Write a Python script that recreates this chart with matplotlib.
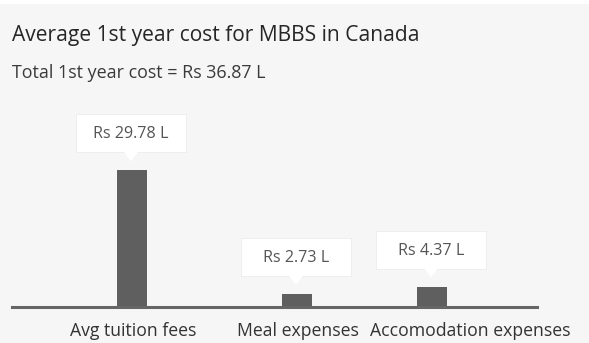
import matplotlib.pyplot as plt
import matplotlib.patches as patches

categories = ["Avg tuition fees", "Meal expenses", "Accomodation expenses"]
costs = [29.78, 2.73, 4.37]
value_labels = ["Rs 29.78 L", "Rs 2.73 L", "Rs 4.37 L"]
title = "Average 1st year cost for MBBS in Canada"
subtitle = "Total 1st year cost = Rs 36.87 L"

# layout (bar centers and label centers, in category units)
bar_pos = [0, 1, 1.818]
label_pos = [0.006, 1.006, 2.048]

W, H = 589, 343
bg = "#f6f6f6"
plt.rcParams['font.family'] = ['Open Sans', 'DejaVu Sans']

fig = plt.figure(figsize=(W / 100, H / 100), dpi=100)
fig.patch.set_facecolor(bg)
# white strip along the top edge
fig.patches.append(patches.Rectangle((0, 1 - 4 / H), 1, 4 / H, transform=fig.transFigure,
                                     facecolor="white", edgecolor="none"))

ax = fig.add_axes([12 / W, 1 - 306.5 / H, 525 / W, 206.5 / H])
ax.set_facecolor(bg)
ax.bar(bar_pos, costs, width=0.179, color="#5f5f5f", zorder=2)
ax.set_xlim(-0.727, 2.4545)
ax.set_ylim(0, 45.2)
for s in ["top", "right", "left"]:
    ax.spines[s].set_visible(False)
ax.spines["bottom"].set_color("#666666")
ax.spines["bottom"].set_linewidth(2.2)
ax.set_yticks([])
ax.set_xticks(label_pos)
ax.set_xticklabels(categories, fontsize=12.7, color="#333333")
ax.tick_params(axis="x", length=0, pad=11)

fig.text(12 / W, 1 - 41.5 / H, title, fontsize=15.1, color="#262626", va="baseline")
fig.text(12 / W, 1 - 78.5 / H, subtitle, fontsize=12.9, color="#3a3a3a", va="baseline")

# callout boxes above each bar, sized in pixels
for x, v, lab in zip(bar_pos, costs, value_labels):
    cx, top = ax.transData.transform((x, v))
    cx -= 1
    fig.patches.append(patches.Rectangle((cx - 55, top + 18), 110, 38, transform=None,
                                         facecolor="white", edgecolor="#ececec", lw=0.6, zorder=3))
    fig.patches.append(patches.Polygon([(cx - 7, top + 18.5), (cx + 7, top + 18.5), (cx, top + 9)],
                                       closed=True, transform=None, facecolor="white",
                                       edgecolor="none", zorder=4))
    fig.text(cx / W, (top + 36) / H, lab, fontsize=11.6, color="#555555",
             ha="center", va="center", zorder=5)

fig.savefig("out.png", dpi=100, facecolor=bg)
